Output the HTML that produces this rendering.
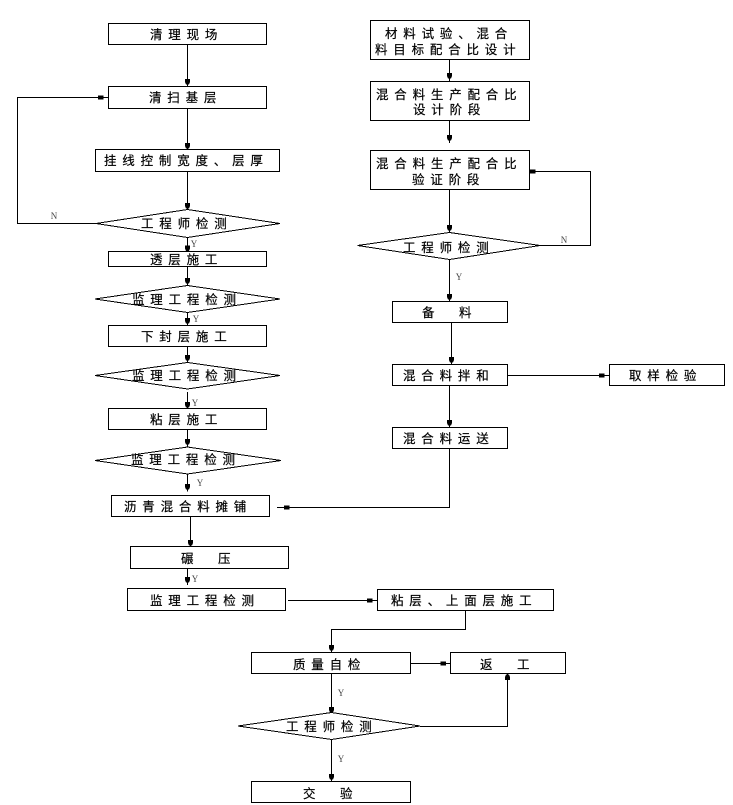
<!DOCTYPE html>
<html lang="zh">
<head>
<meta charset="utf-8">
<style>
html,body{margin:0;padding:0;background:#fff;width:733px;height:805px;overflow:hidden}
svg{display:block}
.s{fill:none;stroke:#000;stroke-width:1;shape-rendering:crispEdges}
.d{fill:none;stroke:#000;stroke-width:1;shape-rendering:crispEdges}
.t{font-family:"WenQuanYi Zen Hei","Noto Sans CJK SC",sans-serif;font-size:12.5px;letter-spacing:5.8px;fill:#000;stroke:#000;stroke-width:.2}
.l{font-family:"Liberation Serif",serif;font-size:9px;fill:#444;text-anchor:middle}
</style>
</head>
<body>
<svg width="733" height="805" viewBox="0 0 733 805" xmlns="http://www.w3.org/2000/svg">
<defs>
<path id="ad" d="M-2.5 0h5v3l-1 2.5h-3l-1-2.5z" fill="#000"/>
<path id="au" d="M-2.5 0h5v-3l-1-2.5h-3l-1 2.5z" fill="#000"/>
<path id="ah" d="M0 -2h5.5v4h-5.5z" fill="#000"/>
</defs>

<!-- Boxes -->
<g class="s">
<rect x="108.5" y="23.5" width="158" height="21"/>
<rect x="108.5" y="86.5" width="158" height="22"/>
<rect x="95.5" y="149.5" width="184" height="22"/>
<rect x="108.5" y="251.5" width="158" height="15"/>
<rect x="108.5" y="325.5" width="158" height="21"/>
<rect x="108.5" y="408.5" width="158" height="21"/>
<rect x="111.5" y="495.5" width="158" height="21"/>
<rect x="130.5" y="546.5" width="158" height="22"/>
<rect x="127.5" y="588.5" width="158" height="22"/>
<rect x="377.5" y="589.5" width="176" height="21"/>
<rect x="251.5" y="652.5" width="159" height="21"/>
<rect x="450.5" y="652.5" width="115" height="21"/>
<rect x="251.5" y="781.5" width="159" height="21"/>
<rect x="370.5" y="20.5" width="159" height="39"/>
<rect x="370.5" y="81.5" width="159" height="39"/>
<rect x="370.5" y="150.5" width="159" height="39"/>
<rect x="392.5" y="301.5" width="115" height="21"/>
<rect x="392.5" y="364.5" width="115" height="21"/>
<rect x="609.5" y="364.5" width="115" height="21"/>
<rect x="392.5" y="427.5" width="115" height="21"/>
</g>

<!-- Diamonds -->
<g class="d">
<polygon points="96,223.5 187.5,209.5 280,223.5 187.5,237.5"/>
<polygon points="95,299 187.5,285.5 280,299 187.5,312.5"/>
<polygon points="95,375.5 187.5,362.5 280,375.5 187.5,389"/>
<polygon points="95,460.5 187.5,447 281,460.5 187.5,474"/>
<polygon points="357.5,245.5 449.5,232.5 540,245.5 449.5,259.5"/>
<polygon points="238,726 331.5,712.5 420,726 331.5,739.5"/>
</g>

<!-- Connectors -->
<path class="s" d="M187.5 44V86M187.5 108V149M187.5 171V209M187.5 237V251M187.5 266V285M187.5 312V325M187.5 346V362M187.5 392V408M187.5 429V447M187.5 474V491.5M190.5 516V546M187.5 568V585
M96 223.5H17.5V97.5H108
M449.5 59V81M449.5 120V143M449.5 189V232M449.5 259V301M451.5 322V364M449.5 385V427
M540 245.5H590.5V171.5H529.5
M507 375.5H609
M449.5 448V507.5H277
M288 600.5H377
M465.5 610V629.5H331.5V652
M331.5 673V712M331.5 739V781
M410 663.5H450
M420 726.5H507.5V674"/>

<!-- Arrowheads -->
<g>
<use href="#ad" x="187.5" y="79"/>
<use href="#ad" x="187.5" y="143"/>
<use href="#ad" x="187.5" y="203"/>
<use href="#ad" x="187.5" y="245.5"/>
<use href="#ad" x="187.5" y="278"/>
<use href="#ad" x="187.5" y="318"/>
<use href="#ad" x="187.5" y="355"/>
<use href="#ad" x="187.5" y="402"/>
<use href="#ad" x="187.5" y="439"/>
<use href="#ad" x="187.5" y="484"/>
<use href="#ad" x="190.5" y="540"/>
<use href="#ad" x="187.5" y="577"/>
<use href="#ad" x="449.5" y="73"/>
<use href="#ad" x="449.5" y="135"/>
<use href="#ad" x="449.5" y="225"/>
<use href="#ad" x="449.5" y="294"/>
<use href="#ad" x="451.5" y="357"/>
<use href="#ad" x="449.5" y="420"/>
<use href="#ad" x="331.5" y="645"/>
<use href="#ad" x="331.5" y="707"/>
<use href="#ad" x="331.5" y="774"/>
<use href="#au" x="507.5" y="680"/>
<use href="#ah" x="98" y="97.5"/>
<use href="#ah" x="530" y="171.5"/>
<use href="#ah" x="599" y="375.5"/>
<use href="#ah" x="284" y="507.5"/>
<use href="#ah" x="367" y="600.5"/>
<use href="#ah" x="440.5" y="663.5"/>
</g>

<!-- Labels -->
<g class="t">
<text x="150" y="39">清理现场</text>
<text x="149" y="102">清扫基层</text>
<text x="104" y="165">挂线控制宽度、层厚</text>
<text x="141" y="228">工程师检测</text>
<text x="150" y="264">透层施工</text>
<text x="132" y="304">监理工程检测</text>
<text x="141" y="341">下封层施工</text>
<text x="132" y="380">监理工程检测</text>
<text x="150" y="424">粘层施工</text>
<text x="131" y="464">监理工程检测</text>
<text x="124" y="511">沥青混合料摊铺</text>
<text x="181 218" y="563">碾压</text>
<text x="150" y="605">监理工程检测</text>
<text x="391" y="605">粘层、上面层施工</text>
<text x="293" y="669">质量自检</text>
<text x="480 517" y="669">返工</text>
<text x="286" y="731">工程师检测</text>
<text x="303 340" y="798">交验</text>
<text x="385" y="38">材料试验、混合</text>
<text x="375" y="54">料目标配合比设计</text>
<text x="376" y="99">混合料生产配合比</text>
<text x="413" y="114">设计阶段</text>
<text x="376" y="168">混合料生产配合比</text>
<text x="412" y="184">验证阶段</text>
<text x="403" y="252">工程师检测</text>
<text x="422 459" y="317">备料</text>
<text x="403" y="380">混合料拌和</text>
<text x="629" y="380">取样检验</text>
<text x="403" y="443">混合料运送</text>
</g>

<g class="l">
<text x="54" y="219">N</text>
<text x="564" y="243">N</text>
<text x="194" y="247">Y</text>
<text x="196" y="322">Y</text>
<text x="195" y="406">Y</text>
<text x="200" y="486">Y</text>
<text x="195" y="582">Y</text>
<text x="459" y="280">Y</text>
<text x="341" y="696">Y</text>
<text x="341" y="762">Y</text>
</g>
</svg>
</body>
</html>
